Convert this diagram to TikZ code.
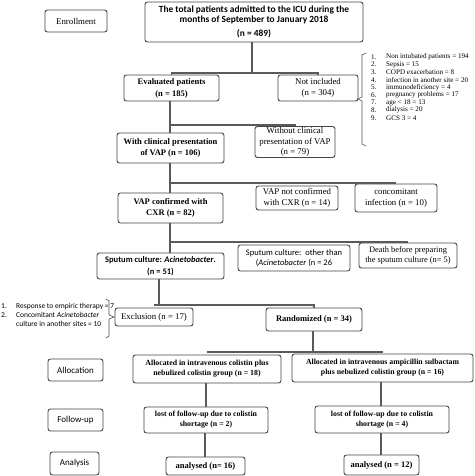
\documentclass[tikz,border=0pt]{standalone}
\usepackage{fontspec}
\setmainfont{Liberation Serif}
\newfontfamily\calfont{Carlito}
\definecolor{boxcol}{HTML}{454545}
\definecolor{linecol}{HTML}{5A5A5A}
\begin{document}
\begin{tikzpicture}[x=1pt,y=-1pt,
 box/.style={draw=boxcol, line width=0.9pt, rounded corners=2.5pt, align=center, inner sep=1pt, fill=white},
 bfont/.style={font=\fontsize{8.5}{11}\selectfont\bfseries},
 rfont/.style={font=\fontsize{8.8}{10.5}\selectfont},
 sfont/.style={font=\fontsize{7.8}{10}\selectfont\bfseries},
 conn/.style={draw=linecol, line width=1.1pt},
 brk/.style={draw=black!70, line width=0.6pt},
 lst/.style={anchor=west, inner sep=0pt, font=\fontsize{7.1}{7.5}\selectfont},
 llst/.style={anchor=west, inner sep=0pt, font=\calfont\fontsize{7.5}{8}\selectfont},
 ]
\useasboundingbox (0,0) rectangle (474,476);

% side labels
\node[box, rfont, minimum width=62pt, minimum height=22pt] (enroll) at (76,21) {Enrollment};
\node[box, font=\calfont\fontsize{9}{10}\selectfont, minimum width=55pt, minimum height=22pt] (allocl) at (75.5,370) {Allocation};
\node[box, font=\calfont\fontsize{9}{10}\selectfont, minimum width=55pt, minimum height=22pt] (followl) at (75.5,420) {Follow-up};
\node[box, font=\calfont\fontsize{9}{10}\selectfont, minimum width=49pt, minimum height=23pt] (anall) at (74.5,463.5) {Analysis};

% main flow
\node[box, font=\calfont\fontsize{9.4}{10.5}\selectfont\bfseries, minimum width=218pt, minimum height=40pt] (top) at (254,22)
  {The total patients admitted to the ICU during the\\ months of September to January 2018\\[3.5pt] (n = 489)};
\node[box, bfont, minimum width=95pt, minimum height=26pt] (eval) at (171.5,88) {Evaluated patients\\[1pt] (n = 185)};
\node[box, rfont, minimum width=80pt, minimum height=26pt] (notinc) at (318,88) {Not included\\ (n = 304)};
\node[box, bfont, minimum width=107pt, minimum height=30pt] (withc) at (170.5,148) {With clinical presentation\\ of VAP (n = 106)};
\node[box, rfont, minimum width=80pt, minimum height=30pt] (without) at (295,142) {Without clinical\\ presentation of VAP\\ (n = 79)};
\node[box, bfont, minimum width=105pt, minimum height=30pt] (vapc) at (170.5,208) {VAP confirmed with\\ CXR (n = 82)};
\node[box, rfont, minimum width=82pt, minimum height=24pt] (vapnot) at (297,198) {VAP not confirmed\\ with CXR (n = 14)};
\node[box, rfont, minimum width=82pt, minimum height=28pt] (concom) at (396,198) {concomitant\\ infection (n = 10)};
\node[box, font=\calfont\fontsize{8.5}{10}\selectfont\bfseries, minimum width=127pt, minimum height=26pt] (sput) at (160.5,266) {Sputum culture: \textit{Acinetobacter}.\\[2pt] (n = 51)};
\node[box, font=\calfont\fontsize{8.5}{10}\selectfont, minimum width=112pt, minimum height=26pt] (other) at (294,258) {Sputum culture:\ \ other than\\ (\textit{Acinetobacter} (n = 26};
\node[box, font=\fontsize{8.4}{10}\selectfont, minimum width=98pt, minimum height=25pt] (death) at (408,255.5) {Death before preparing\\ the sputum culture (n= 5)};
\node[box, rfont, minimum width=78pt, minimum height=18pt] (excl) at (154,317) {Exclusion (n = 17)};
\node[box, bfont, minimum width=96pt, minimum height=23pt] (rand) at (314,319.5) {Randomized (n = 34)};
\node[box, sfont, minimum width=148pt, minimum height=28pt] (alloc1) at (207,369) {Allocated in intravenous colistin plus\\ nebulized colistin group (n = 18)};
\node[box, sfont, minimum width=181pt, minimum height=28pt] (alloc2) at (382.5,368) {Allocated in intravenous ampicillin sulbactam\\ plus nebulized colistin group (n = 16)};
\node[box, sfont, minimum width=124pt, minimum height=26pt] (lost1) at (206,420) {lost of follow-up due to colistin\\ shortage (n = 2)};
\node[box, sfont, minimum width=134pt, minimum height=27pt] (lost2) at (382,419.5) {lost of follow-up due to colistin\\ shortage (n = 4)};
\node[box, bfont, minimum width=79pt, minimum height=18pt] (an1) at (205.5,466) {analysed (n= 16)};
\node[box, bfont, minimum width=75pt, minimum height=20pt] (an2) at (381.5,465) {analysed (n = 12)};

% junctions
\coordinate (j1) at (252,73);
\coordinate (j2) at (170,125);
\coordinate (j3) at (170,183);
\coordinate (j4) at (170,242);
\coordinate (j5) at (159,305);
\coordinate (j6) at (313,352);
\coordinate (c1) at (206,383);
\coordinate (c2) at (381,382);
\coordinate (c3) at (205,433);

\draw[conn] (j1 |- top.south) -- (j1);
\draw[conn] (eval.north) -- (eval.north |- j1) -- (notinc.north |- j1) -- (notinc.north);
\draw[conn] (j2 |- eval.south) -- (j2 |- withc.north);
\draw[conn] (j2) -- (without.north |- j2) -- (without.north);
\draw[conn] (j3 |- withc.south) -- (j3 |- vapc.north);
\draw[conn] (j3) -- (concom.north |- j3);
\draw[conn] (j4 |- vapc.south) -- (j4 |- sput.north);
\draw[conn] (j4) -- (death.north |- j4);
\draw[conn] (j5 |- sput.south) -- (j5);
\draw[conn] (excl.north |- j5) -- (rand.north |- j5) -- (rand.north);
\draw[conn] (j6 |- rand.south) -- (j6);
\draw[conn] (alloc1.north |- j6) -- (alloc2.north |- j6);
\draw[conn] (alloc1.south -| c1) -- (lost1.north -| c1);
\draw[conn] (alloc2.south -| c2) -- (lost2.north -| c2);
\draw[conn] (lost1.south -| c3) -- (an1.north -| c3);
\draw[conn] (lost2.south -| c2) -- (an2.north -| c2);

% right bracket list
\draw[brk] (366,53) -- (362,55) -- (362,97) -- (358,99) -- (362,101) -- (362,144) -- (366,146);
\foreach \i/\t [count=\k from 0] in {1/Non intubated patients = 194, 2/Sepsis = 15, 3/COPD exacerbation = 8,
  4/infection in another site = 20, 5/immunodeficiency = 4, 6/pregnancy problems = 17,
  7/age < 18 = 13, 8/dialysis = 20, 9/GCS 3 = 4} {
  \node[lst] (n\i) at (371,57+7.6*\k) {\i.};
  \node[lst] (l\i) at (386,57+7.6*\k) {\t};
}

% left bracket list
\draw[brk] (106,299) -- (109,301) -- (109,315) -- (114,317) -- (109,319) -- (109,336) -- (106,338);
\node[llst] (e1n) at (1,306) {1.};
\node[llst] (e1) at (16,306) {Response to empiric therapy = 7};
\node[llst] (e2n) at (1,315) {2.};
\node[llst] (e2) at (16,315) {Concomitant \textit{Acinetobacter}};
\node[llst] (e2b) at (16,324) {culture in another sites = 10};
\end{tikzpicture}
\end{document}
